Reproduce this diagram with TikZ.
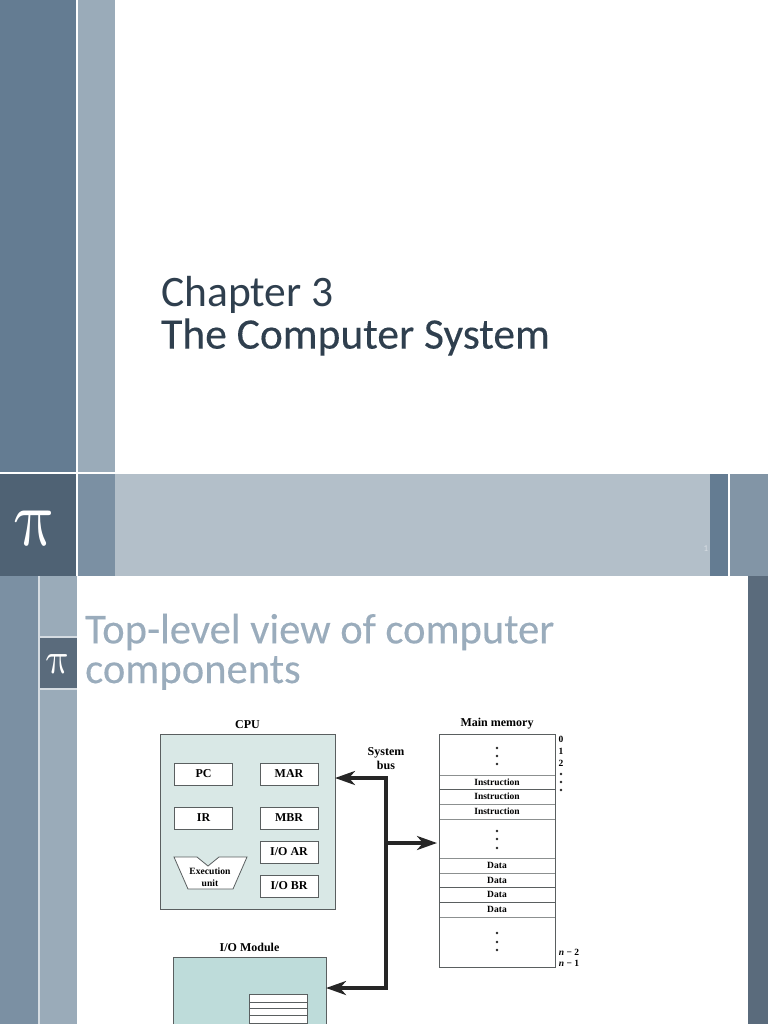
\documentclass[tikz,border=0pt]{standalone}
\usepackage{fontspec}
\setmainfont{Liberation Serif}
\newfontfamily\slidefont{Carlito}
\newfontfamily\slidebold[FakeBold=0.25]{Carlito}
\usetikzlibrary{arrows.meta,positioning}
\definecolor{barmid}{HTML}{647C92}
\definecolor{barlight}{HTML}{9AABB9}
\definecolor{bardark}{HTML}{4F6274}
\definecolor{barsteel}{HTML}{7B90A3}
\definecolor{barpale}{HTML}{B3BFC9}
\definecolor{barend}{HTML}{8295A6}
\definecolor{slidedark}{HTML}{5A6B7C}
\definecolor{slideline}{HTML}{D5DCE2}
\definecolor{titledark}{HTML}{2F3F4E}
\definecolor{titlepale}{HTML}{9AACBC}
\definecolor{cpufill}{HTML}{D9E8E6}
\definecolor{iofill}{HTML}{BEDCDA}
\definecolor{edgegray}{HTML}{5A5F60}
\definecolor{celledge}{HTML}{8C9090}
\tikzstyle{reg}=[rectangle,draw=edgegray,fill=white,line width=0.9pt,inner sep=0pt,outer sep=0pt,minimum width=58pt,minimum height=22pt,font=\fontsize{12}{12}\selectfont\bfseries]
\tikzstyle{lab}=[inner sep=0pt,font=\fontsize{12}{14}\selectfont\bfseries,align=center]
\tikzstyle{memcell}=[rectangle,draw=celledge,line width=1pt,inner sep=0pt,outer sep=0pt,minimum width=116pt,font=\fontsize{9.5}{10}\selectfont\bfseries]
\tikzstyle{sv}=[circle,fill=black!85,inner sep=0pt,minimum size=2.6pt]
\tikzstyle{idx}=[inner sep=0pt,font=\fontsize{9.5}{10}\selectfont\bfseries]
\tikzstyle{bus}=[line width=3.4pt,black!85,line join=miter,>={Stealth[length=20pt,width=14pt,inset=6pt]}]
\begin{document}
\begin{tikzpicture}[x=1pt,y=-1pt]
\path[use as bounding box,clip] (0,0) rectangle (768,1024);
% first slide
\fill[barmid] (0,0) rectangle (76,472);
\fill[barlight] (78,0) rectangle (115,472);
\fill[bardark] (0,474) rectangle (76,576);
\fill[barsteel] (78,474) rectangle (115,576);
\fill[barpale] (115,474) rectangle (710,576);
\fill[barmid] (710,474) rectangle (728,576);
\fill[barend] (730,474) rectangle (768,576);
% second slide
\fill[barsteel] (0,576) rectangle (38,1024);
\fill[slideline] (38,576) rectangle (40,1024);
\fill[barlight] (40,576) rectangle (77,636);
\fill[slideline] (40,636) rectangle (77,690);
\fill[slidedark] (40,638) rectangle (77,688);
\fill[barlight] (40,690) rectangle (77,1024);
\fill[slidedark] (748,576) rectangle (768,1024);
\node[white,inner sep=0pt,xscale=7,yscale=8,xslant=-0.2] (bigpi) at (36,528) {$\pi$};
\node[white,inner sep=0pt,xscale=4,yscale=4.4,xslant=-0.2] (smallpi) at (58,664) {$\pi$};
\node[barlight!40!white,inner sep=0pt,font=\slidefont\fontsize{9}{9}\selectfont] (pageno) at (706,549) {1};
\node[anchor=west,inner sep=0pt,text=titledark,font=\slidefont\fontsize{43.5}{43.5}\selectfont] (chap) at (161,295) {Chapter 3};
\node[anchor=west,inner sep=0pt,text=titledark,font=\slidebold\fontsize{43.5}{43.5}\selectfont] (chapname) at (161,337) {The Computer System};
\node[anchor=west,inner sep=0pt,text=titlepale,font=\slidebold\fontsize{42.6}{42.6}\selectfont] (head1) at (85,632) {Top-level view of computer};
\node[anchor=west,inner sep=0pt,text=titlepale,font=\slidebold\fontsize{42.6}{42.6}\selectfont] (head2) at (85,673) {components};
% cpu
\node[rectangle,draw=edgegray,fill=cpufill,line width=0.9pt,inner sep=0pt,outer sep=0pt,minimum width=175pt,minimum height=175pt] (cpu) at (247.5,821.5) {};
\node[lab] (cpulab) [above=5pt of cpu] {CPU};
\node[reg] (pc) at (203.5,774) {PC};
\node[reg] (mar) [right=27.5pt of pc] {MAR};
\node[reg] (ir) [below=22pt of pc] {IR};
\node[reg] (mbr) [right=27.5pt of ir] {MBR};
\node[reg] (ioar) [below=12pt of mbr] {I/O AR};
\node[reg] (iobr) [below=12pt of ioar] {I/O BR};
\draw[draw=edgegray,fill=white,line width=0.8pt] (174,857) -- (197,857) -- (208,866) -- (219,857) -- (247,857) -- (233,889) -- (188,889) -- cycle;
\node[lab,font=\fontsize{9.6}{12}\selectfont\bfseries] (exec) at (210,877) {Execution\\unit};
% i/o module
\node[rectangle,draw=edgegray,fill=iofill,line width=0.9pt,inner sep=0pt,outer sep=0pt,minimum width=153pt,minimum height=100pt] (iomod) at (249.5,1007) {};
\node[lab] (iolab) [above=5pt of iomod] {I/O Module};
\foreach \ytop/\ybot in {994/1002,1002/1008,1008/1015,1015/1023,1023/1030}
  \draw[draw=edgegray,fill=white,line width=0.8pt] (249,\ytop) rectangle (307,\ybot);
% main memory
\foreach \name/\ytop/\ybot in {c1/734/775,c2/775/789,c3/789/804,c4/804/819,c5/819/858,c6/858/873,c7/873/887,c8/887/902,c9/902/917,c10/917/967}
  \node[memcell,minimum height={\ybot-\ytop}] (\name) at (497,{(\ytop+\ybot)/2}) {};
\foreach \name/\txt in {c2/Instruction,c3/Instruction,c4/Instruction,c6/Data,c7/Data,c8/Data,c9/Data}
  \node[inner sep=0pt,font=\fontsize{9.5}{10}\selectfont\bfseries] (t\name) at (\name) {\txt};
\foreach \dx/\dy [count=\k] in {497/748,497/756,497/764,497/831,497/839,497/848,497/933,497/942,497/950,561/774,561/782,561/790}
  \node[sv] (dot\k) at (\dx,\dy) {};
\draw[edgegray,line width=1pt] (c2.south west) -- (c2.south east);
\draw[edgegray,line width=1pt] (c8.north west) -- (c8.north east);
\draw[edgegray,line width=1pt] (c8.south west) -- (c8.south east);
\draw[edgegray,line width=0.9pt] (c1.north west) rectangle (c10.south east);
\node[lab] (memlab) [above=5pt of c1] {Main memory};
\node[idx] (i0) at (561,739) {0};
\node[idx] (i1) at (561,751) {1};
\node[idx] (i2) at (561,763) {2};
\node[idx] (in2) at (569,952) {\textit{n} \textminus{} 2};
\node[idx] (in1) at (569,963) {\textit{n} \textminus{} 1};
% system bus
\node[lab] (buslab) at (386,759) {System\\bus};
\coordinate (bustop) at (386,778);
\coordinate (busbot) at (386,988);
\coordinate (busmid) at (386,843);
\draw[bus,<->] (cpu.east |- bustop) -- (bustop) -- (busbot) -- (iomod.east |- busbot);
\draw[bus,->,shorten >=2pt] (busmid) -- (c1.west |- busmid);
\end{tikzpicture}
\end{document}
